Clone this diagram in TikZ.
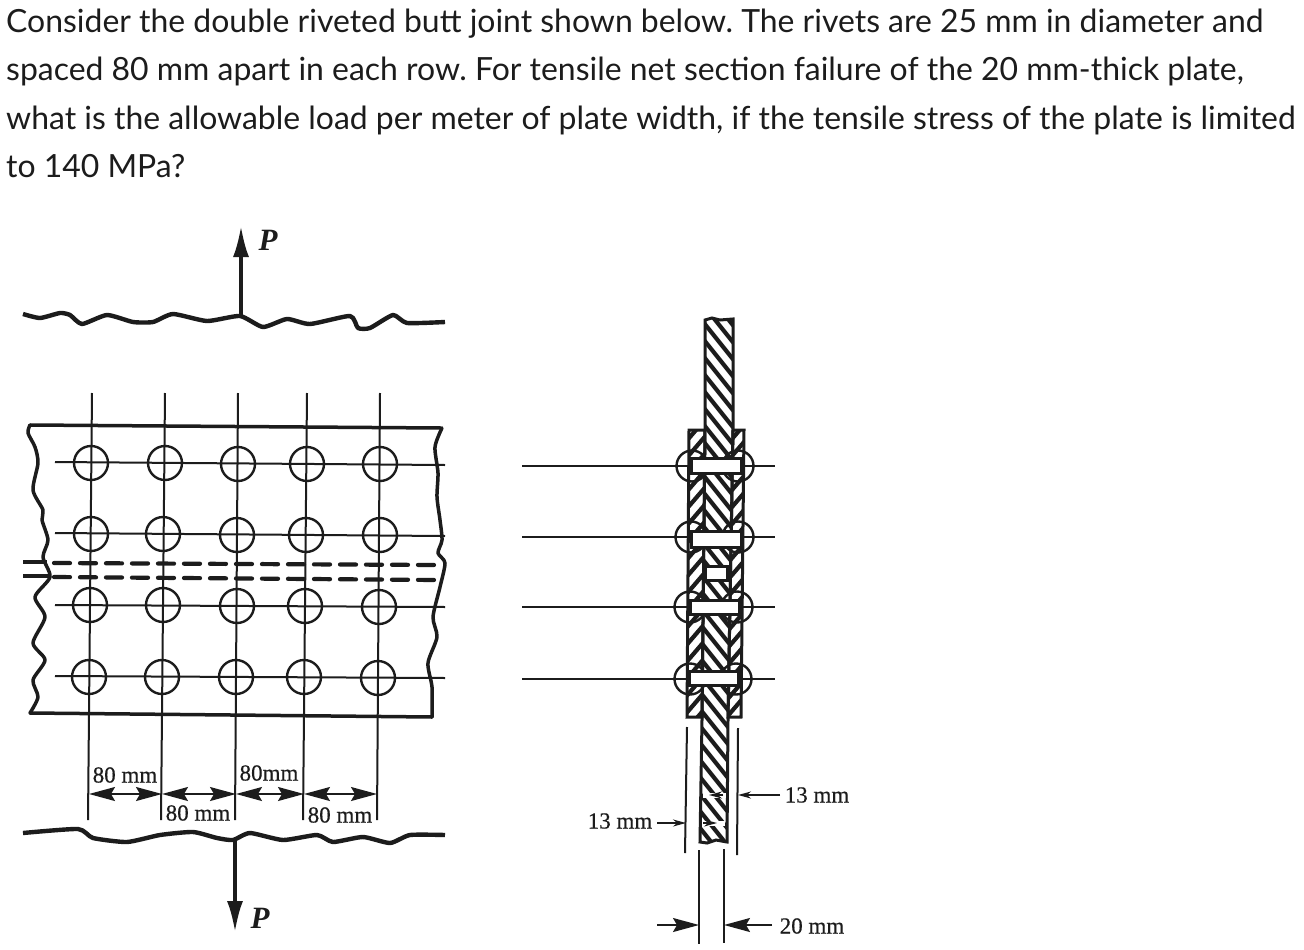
\documentclass[tikz,border=0pt]{standalone}
\usepackage{fontspec}
\setmainfont{Lato}
\newfontfamily\figfont{Liberation Serif}
\newfontfamily\dimfont[FakeBold=0.4]{Liberation Serif}
\usetikzlibrary{arrows.meta}
\definecolor{ink}{HTML}{1C1C1C}
\tikzset{
  qtext/.style={anchor=base west,inner sep=0pt,font=\fontsize{31.93}{38}\selectfont,text=ink},
  dimlabel/.style={inner sep=0pt,font=\dimfont\fontsize{23}{26}\selectfont,text=ink},
  loadlabel/.style={inner sep=0pt,font=\figfont\bfseries\itshape\fontsize{31}{34}\selectfont,text=ink},
  outline/.style={draw=ink,line width=3.5pt,line join=round,line cap=round},
  breakline/.style={draw=ink,line width=4.4pt,line join=round},
  thin line/.style={draw=ink,line width=2pt},
  holecircle/.style={draw=ink,line width=2.4pt},
  dashline/.style={draw=ink,line width=4.2pt,dash pattern=on 16pt off 10pt,line cap=round},
  loadarrow/.style={draw=ink,line width=3.4pt,-{Latex[length=31pt,width=16pt]}},
  dimboth/.style={draw=ink,line width=1.5pt,{Stealth[length=26pt,width=14pt,inset=4pt]}-{Stealth[length=26pt,width=14pt,inset=4pt]}},
  dimone/.style={draw=ink,line width=1.6pt,-{Stealth[length=26pt,width=14pt,inset=4pt]}},
  dimsmall/.style={draw=ink,line width=1.6pt,-{Stealth[length=13pt,width=7pt]}},
  stripe/.style={draw=ink,line width=4.2pt},
  platebox/.style={draw=ink,line width=3pt,line join=miter},
  rivetbar/.style={draw=ink,fill=white,line width=3pt},
  riverhead/.style={draw=ink,line width=2.4pt,fill=white},
}
% #1 closed polygon, #2 rise per 120 units of x
\newcommand{\hatchfill}[2]{%
  \begin{scope}
    \clip #1;
    \foreach \k in {200,217,...,1040}
      \draw[stripe] (660,\k) -- (780,{\k+#2});
  \end{scope}
  \draw[platebox] #1;
}
\begin{document}
\begin{tikzpicture}[x=1pt,y=-1pt]
\useasboundingbox (0,0) rectangle (1304,950);
\fill[white] (0,0) rectangle (1304,950);

% question
\frenchspacing
\node[qtext] (q1) at (6,33) {Consider the double riveted butt joint shown below. The rivets are 25 mm in diameter and};
\node[qtext] (q2) at (6,81) {spaced 80 mm apart in each row. For tensile net section failure of the 20 mm-thick plate,};
\node[qtext] (q3) at (6,129) {what is the allowable load per meter of plate width, if the tensile stress of the plate is limited};
\node[qtext] (q4) at (6,177) {to 140 MPa?};

% break lines
\draw[breakline] plot[smooth,tension=0.35] coordinates {(23,314)(40,318)(60,313)(70,315)(82,324)(107,315)(133,322)(153,322)(173,314)(207,321)(240,316)(263,327)(287,319)(310,324)(350,316)(358,328)(370,328)(393,315)(407,323)(445,322)};
\draw[breakline] plot[smooth,tension=0.35] coordinates {(23,833)(78,829)(93,838)(127,842)(160,835)(193,832)(217,838)(233,840)(250,833)(283,840)(317,835)(333,842)(363,837)(390,843)(410,835)(445,835)};

% loads
\coordinate (topload) at (241,316);
\coordinate (toptip) at (241,226);
\coordinate (botload) at (235,840);
\coordinate (bottip) at (235,932);
\draw[loadarrow] (topload) -- (toptip);
\draw[loadarrow] (botload) -- (bottip);
\node[loadlabel] (ptop) at (268,240) {P};
\node[loadlabel] (pbot) at (260,918) {P};

% butt strap outline
\draw[outline] (30,425) -- (441,428);
\draw[outline] (30,713) -- (432,717);
\draw[outline] plot[smooth,tension=0.45] coordinates {(30,425)(28,433)(35,447)(38,463)(33,490)(43,510)(42,520)(48,540)(43,557)(50,577)(35,597)(45,617)(33,643)(45,660)(33,680)(38,697)(30,713)};
\draw[outline] plot[smooth,tension=0.45] coordinates {(442,428)(435,447)(438,473)(437,497)(440,520)(442,540)(438,553)(445,563)(440,587)(433,617)(437,637)(428,663)(432,687)(432,717)};

% joint line
\draw[dashline] (54,563) -- (437,565);
\draw[dashline] (54,577) -- (437,580);
\draw[draw=ink,line width=4.2pt] (23,562) -- (47,562);
\draw[draw=ink,line width=4.2pt] (23,576) -- (50,576);

% centre lines
\draw[thin line] (92,393) -- (88,820);
\draw[thin line] (165,393) -- (161,820);
\draw[thin line] (238,393) -- (235,820);
\draw[thin line] (307,393) -- (303,820);
\draw[thin line] (380,393) -- (377,820);
\draw[thin line] (55,462) -- (445,465);
\draw[thin line] (55,533) -- (445,536);
\draw[thin line] (55,605) -- (445,607);
\draw[thin line] (55,676) -- (445,678);

% holes
\foreach \cx/\cy/\hn in {91/463/a1,165/463/a2,238/464/a3,307/464/a4,380/464/a5,
  91/534/b1,163/534/b2,237/535/b3,306/535/b4,380/535/b5,
  90/605/c1,163/605/c2,237/606/c3,305/606/c4,379/607/c5,
  89/677/d1,162/677/d2,236/677/d3,304/677/d4,378/678/d5}
  \node[holecircle,circle,minimum size=34pt,inner sep=0pt] (\hn) at (\cx,\cy) {};

% pitch dimensions
\coordinate (p1) at (89,794);
\coordinate (p2) at (162,794);
\coordinate (p3) at (236,794);
\coordinate (p4) at (304,794);
\coordinate (p5) at (377,794);
\draw[dimboth] (p1) -- (p2);
\draw[dimboth] (p2) -- (p3);
\draw[dimboth] (p3) -- (p4);
\draw[dimboth] (p4) -- (p5);
\node[dimlabel] (d12) at (125,775) {80 mm};
\node[dimlabel] (d23) at (198,813) {80 mm};
\node[dimlabel] (d34) at (269,773) {80mm};
\node[dimlabel] (d45) at (340,815) {80 mm};

% rivet heads and leader lines of the side view
\foreach \ya/\xl/\xr in {466/692/738,537/691/738,607/690/737,679/690/736}{
  \draw[riverhead] (\xl,\ya) circle[radius=15.5pt];
  \draw[riverhead] (\xr,\ya) circle[radius=15.5pt];
  \draw[thin line] (522,\ya) -- (700,\ya);
  \draw[thin line] (730,\ya) -- (775,\ya);
}

% plates
\hatchfill{(705,320) -- (712,318) -- (720,320) -- (733,319) -- (733,430) -- (728,720) -- (727,842) -- (716,840) -- (707,843) -- (700,842) -- (702,720) -- (705,430) -- cycle}{150}
\hatchfill{(689,430) -- (705,430) -- (702,717) -- (687,717) -- cycle}{-140}
\hatchfill{(733,430) -- (744,430) -- (741,717) -- (728,717) -- cycle}{-140}

% rivet shanks
\draw[rivetbar] (691,458) rectangle (741,473);
\draw[rivetbar] (691,531) rectangle (741,547);
\draw[rivetbar] (690,600) rectangle (739,614);
\draw[rivetbar] (689,671) rectangle (738,685);
% plate gap
\draw[rivetbar] (705,566) rectangle (727,580);

% thickness dimensions
\draw[thin line] (687,727) -- (685,853);
\draw[thin line] (738,728) -- (737,855);
\draw[thin line] (699,850) -- (699,944);
\draw[thin line] (724,849) -- (724,943);
\coordinate (c13r) at (780,795);
\coordinate (t13r) at (738,795);
\coordinate (c13l) at (657,823);
\coordinate (t13l) at (686,823);
\coordinate (c20l) at (657,925);
\coordinate (t20l) at (699,925);
\coordinate (c20r) at (772,925);
\coordinate (t20r) at (724,925);
\draw[dimsmall] (c13r) -- (t13r);
\draw[dimsmall] (c13l) -- (t13l);
\draw[dimone] (c20l) -- (t20l);
\draw[dimone] (c20r) -- (t20r);
\coordinate (s1a) at (723,795);
\coordinate (s1b) at (709,795);
\coordinate (s2a) at (703,823);
\coordinate (s2b) at (717,823);
\draw[draw=white,line width=5pt] (703,795) -- (726,795);
\draw[draw=white,line width=5pt] (703,823) -- (725,823);
\draw[dimsmall] (s1a) -- (s1b);
\draw[dimsmall] (s2a) -- (s2b);
\node[dimlabel] (lr) at (817,795) {13 mm};
\node[dimlabel] (ll) at (620,821) {13 mm};
\node[dimlabel] (lt) at (812,926) {20 mm};
\end{tikzpicture}
\end{document}
